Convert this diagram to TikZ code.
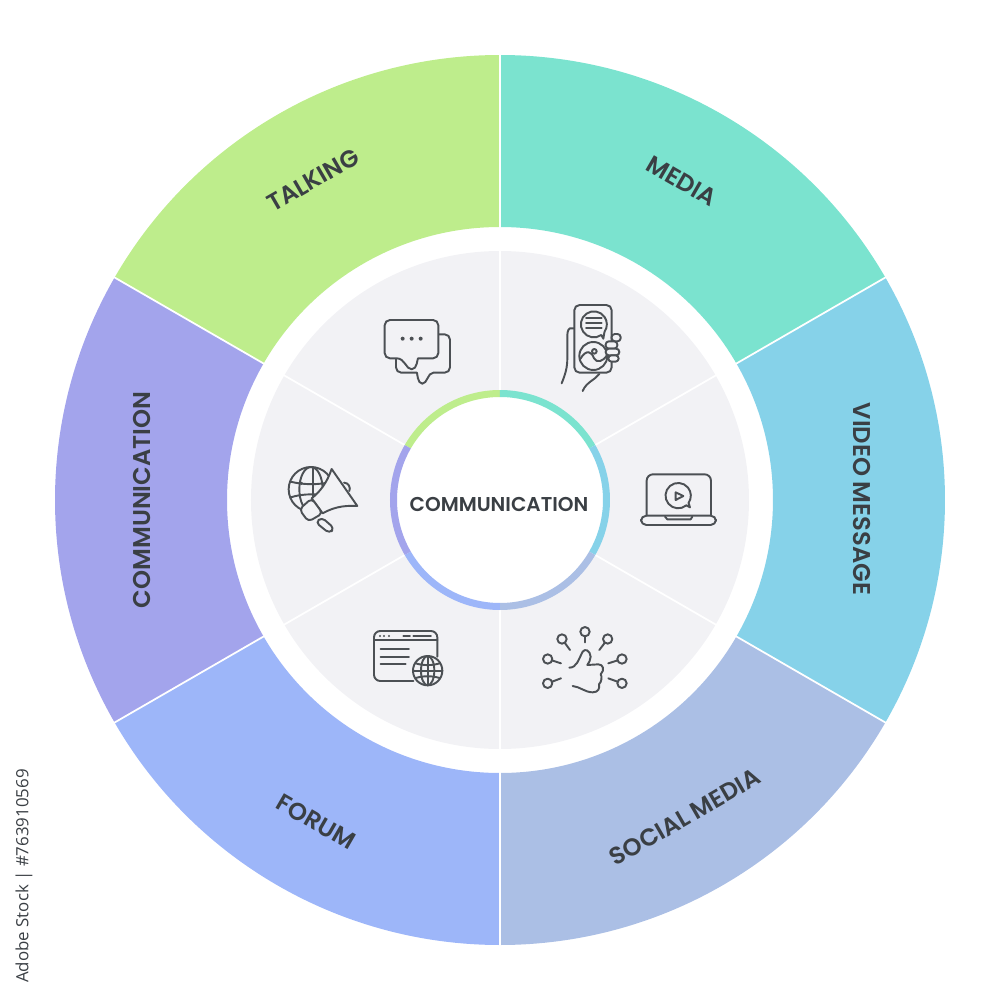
\documentclass[tikz,border=0pt]{standalone}
\usepackage{fontspec}
\setmainfont{Poppins}[BoldFont={Poppins SemiBold}]
\newfontfamily\stockfont{Open Sans}
\definecolor{talkgreen}{HTML}{BEED8C}
\definecolor{mediateal}{HTML}{7BE3CF}
\definecolor{videoblue}{HTML}{86D2E9}
\definecolor{socialblue}{HTML}{ABBFE5}
\definecolor{forumblue}{HTML}{9DB6F9}
\definecolor{commviolet}{HTML}{A3A4EC}
\definecolor{panelgray}{HTML}{F2F2F5}
\definecolor{inkgray}{HTML}{3A3F44}
\definecolor{iconline}{HTML}{4C5054}
\tikzset{
  seclabel/.style={text=inkgray, inner sep=0pt, font=\fontsize{6.9}{8}\selectfont\bfseries},
  midlabel/.style={text=inkgray, inner sep=0pt, font=\fontsize{5.7}{7}\selectfont\bfseries},
  icon/.style={draw=iconline, line width=0.55pt, line cap=round, line join=round},
  iconfill/.style={icon, fill=panelgray},
  zoomed/.style={shift={#1}, scale=1/3}
}
\begin{document}
\begin{tikzpicture}[x=0.1mm, y=0.1mm]
  \useasboundingbox (-500,-500) rectangle (500,500);

  \foreach \a/\b/\col/\name/\txt/\lx/\ly/\rot in {90/150/talkgreen/talking/TALKING/-187/320/30, 30/90/mediateal/media/MEDIA/182/319/-30, -30/30/videoblue/video/VIDEO MESSAGE/362/1/-90, -90/-30/socialblue/social/SOCIAL MEDIA/185/-317/30, -150/-90/forumblue/forum/FORUM/-184/-322/-30, 150/210/commviolet/comm/COMMUNICATION/-358/0/90} {
    \fill[\col] (\a:445) arc (\a:\b:445) -- (\b:273) arc (\b:\a:273) -- cycle;
    \node[seclabel, rotate=\rot] (label\name) at (\lx,\ly) {\txt};
  };
  \foreach \a in {30,90,...,330} {
    \draw[white, line width=0.5pt] (\a:272) -- (\a:446);
  };

  \fill[panelgray] (0,0) circle (249);
  \foreach \a in {30,90,...,330} {
    \draw[white, line width=0.5pt] (\a:105) -- (\a:250);
  };
  \fill[white] (0,0) circle (106);
  \foreach \a/\b/\col in {90/150/talkgreen, 30/90/mediateal, -30/30/videoblue, -90/-30/socialblue, -150/-90/forumblue, 150/210/commviolet} {
    \fill[\col] (\a:110) arc (\a:\b:110) -- (\b:103) arc (\b:\a:103) -- cycle;
  };
  \node[midlabel] (center) at (-1,-4) {COMMUNICATION};

  \node[text=inkgray, inner sep=0pt, rotate=90, font=\fontsize{4.8}{6}\selectfont\stockfont] (stock) at (-476,-376) {Adobe Stock | \#763910569};

  \begin{scope}[shift={(-500,500)}, yscale=-1]
    \begin{scope}[zoomed={(360,280)}]
      \draw[icon, rounded corners=1.5pt] (108,235) -- (108,278) -- (155,278) [sharp corners] .. controls (172,278) and (172,311) .. (187,311) .. controls (202,311) and (203,278) .. (220,278) [rounded corners=1.5pt] -- (270,278) -- (270,163) -- (237,163);
      \draw[iconfill, rounded corners=1.5pt] (110,235) -- (74,235) -- (74,120) -- (235,120) -- (235,235) -- (190,235) [sharp corners] .. controls (172,235) and (172,268) .. (155,268) .. controls (138,268) and (135,235) .. (110,235) -- cycle;
      \foreach \x in {128,155,182} {
        \fill[iconline] (\x,176) circle (6);
      };

      \draw[icon] (643,145) -- (630,145) .. controls (622,150) and (622,160) .. (622,175) -- (622,235) .. controls (622,265) and (615,285) .. (605,310);
      \draw[icon] (718,282) .. controls (705,300) and (680,305) .. (668,333);
      \draw[iconfill, rounded corners=1.5pt] (643,75) rectangle (755,278);
      \draw[icon] (724,165) arc (55:395:39) -- (730,176) -- cycle;
      \foreach \y in {115,130,145} {
        \draw[icon] (678,\y) -- (725,\y);
      };
      \draw[icon] (700,228) circle (42);
      \draw[icon] (660,238) .. controls (680,205) and (695,215) .. (702,235) .. controls (710,250) and (730,245) .. (741,225);
      \draw[icon] (703,214) circle (7);
      \draw[iconfill, rounded corners=0.9pt] (755,162) rectangle (782,184);
      \draw[iconfill, rounded corners=0.9pt] (737,184) rectangle (772,206);
      \draw[iconfill, rounded corners=0.9pt] (737,206) rectangle (778,226);
      \draw[iconfill, rounded corners=0.9pt] (745,226) rectangle (776,245);
    \end{scope}

    \begin{scope}[zoomed={(270,440)}]
      \draw[icon] (123,148) circle (67);
      \draw[icon] (128,81) -- (128,215);
      \draw[icon] (123,148) ellipse (35 and 67);
      \draw[icon] (62,125) .. controls (100,135) and (150,135) .. (185,125);
      \draw[icon] (62,172) .. controls (100,160) and (150,160) .. (185,172);
      \fill[iconline] (95,130) circle (5);
      \draw[icon] (222,128) .. controls (235,128) and (243,142) .. (238,153);
      \draw[iconfill] (185,87) -- (262,198) .. controls (215,195) and (185,205) .. (158,220) -- (125,175) .. controls (150,155) and (170,130) .. (185,87) -- cycle;
      \draw[iconfill, rounded corners=1.2pt] (88,208) -- (125,175) -- (158,220) -- (115,245) -- cycle;
      \draw[iconfill, rounded corners=1.2pt] (137,247) -- (155,232) -- (193,265) -- (178,280) -- cycle;
    \end{scope}

    \begin{scope}[zoomed={(620,450)}]
      \draw[icon, rounded corners=1.8pt] (80,197) -- (80,73) -- (273,73) -- (273,197);
      \draw[icon, rounded corners=1.5pt] (63,197) -- (288,197) -- (288,225) -- (63,225) -- cycle;
      \draw[icon] (135,200) -- (142,208) -- (212,208) -- (217,200);
      \draw[icon] (199,166) arc (50:395:38) -- (210,172) -- cycle;
      \draw[icon] (167,127) -- (190,138) -- (167,150) -- cycle;
    \end{scope}

    \begin{scope}[zoomed={(360,615)}]
      \draw[icon, rounded corners=1.8pt] (160,198) -- (42,198) -- (42,48) -- (232,48) -- (232,125);
      \draw[icon] (42,75) -- (232,75);
      \foreach \x in {60,72,87} {
        \fill[iconline] (\x,63) circle (3.5);
      };
      \draw[icon] (130,63) -- (150,63);
      \draw[icon] (160,63) -- (213,63);
      \draw[icon] (62,102) -- (147,102);
      \draw[icon] (62,125) -- (147,125);
      \draw[icon] (62,148) -- (137,148);
      \draw[iconfill] (203,167) circle (44);
      \draw[icon] (203,167) ellipse (20 and 44);
      \draw[icon] (203,123) -- (203,211);
      \draw[icon] (159,167) -- (247,167);
      \draw[icon] (167,145) .. controls (190,152) and (216,152) .. (239,145);
      \draw[icon] (167,189) .. controls (190,182) and (216,182) .. (239,189);

      \foreach \cx/\cy/\ex/\ey in {606/72/630/105, 675/50/675/82, 743/72/718/105, 563/132/603/145, 786/132/745/145, 563/205/603/190, 786/205/745/190} {
        \draw[icon] (\cx,\cy) circle (14);
        \draw[icon, shorten <=1.3pt] (\cx,\cy) -- (\ex,\ey);
      };
      \draw[icon] (628,158) .. controls (650,158) and (655,135) .. (668,110) .. controls (675,100) and (690,105) .. (692,125) .. controls (692,135) and (687,142) .. (682,150) -- (715,148) .. controls (730,148) and (735,165) .. (722,178) .. controls (727,185) and (725,200) .. (717,208) .. controls (720,220) and (715,232) .. (698,232) .. controls (675,232) and (660,215) .. (638,213);
    \end{scope}
  \end{scope}
\end{tikzpicture}
\end{document}
